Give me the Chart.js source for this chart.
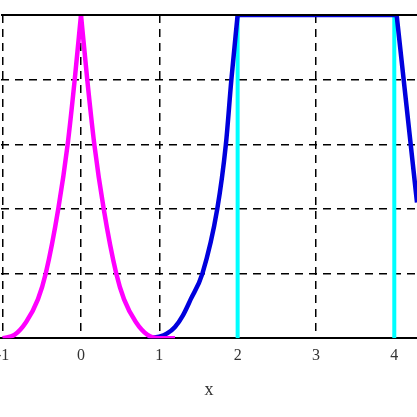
<!DOCTYPE html>
<html>
<head>
<script src="https://cdn.jsdelivr.net/npm/chart.js@4"></script>
<style>
  html, body { margin: 0; padding: 0; background: #fff; overflow: hidden; }
  #wrap { width: 429px; height: 417px; margin-left: -12px; }
</style>
</head>
<body>
<div id="wrap"><canvas id="c"></canvas></div>
<script>
// magenta peak (left half ends at the peak, right half starts there)
const peakLeftX = [-1, -0.85, -0.7, -0.55, -0.45, -0.29, -0.17, -0.08, 0];
const peakLeftY = [0, 0.01, 0.05, 0.12, 0.2, 0.4, 0.6, 0.8, 1];
const peakRightX = [0, 0.08, 0.17, 0.29, 0.45, 0.55, 0.7, 0.85, 1, 1.2];
const peakRightY = [1, 0.8, 0.6, 0.4, 0.2, 0.12, 0.05, 0.01, 0, 0];
// blue rising edge, then plateau and fall
const riseX = [0.85, 1.0, 1.1, 1.2, 1.3, 1.4, 1.55, 1.74, 1.85, 1.92, 2.0];
const riseY = [0, 0.005, 0.015, 0.035, 0.07, 0.12, 0.2, 0.4, 0.6, 0.8, 1];
const plateauX = [2.0, 4.03, 4.29];
const plateauY = [1, 1, 0.42];
// cyan markers
const markX = [2, 4];

function pts(xs, ys) { return xs.map((x, i) => ({ x: x, y: ys[i] })); }
function curve(xs, ys, color, smooth) {
  return { data: pts(xs, ys), borderColor: color, borderWidth: 4.5, showLine: true, pointRadius: 0,
           cubicInterpolationMode: smooth ? "monotone" : "default", tension: 0 };
}

const datasets = [
  curve(peakLeftX, peakLeftY, "#ff00ff", true),
  curve(peakRightX, peakRightY, "#ff00ff", true),
  curve(riseX, riseY, "#0000dd", true),
  curve(plateauX, plateauY, "#0000dd", false)
];
markX.forEach(x => {
  datasets.push({ data: [{ x: x, y: 0 }, { x: x, y: 1 }], borderColor: "#00ffff", borderWidth: 4, showLine: true, pointRadius: 0 });
});

const gridStyle = { color: "#000", lineWidth: 1.5, tickLength: 0 };

new Chart(document.getElementById("c"), {
  type: "scatter",
  data: { datasets },
  options: {
    responsive: true,
    maintainAspectRatio: false,
    animation: false,
    layout: { padding: { top: 15, left: 0, right: 0, bottom: 12 } },
    plugins: { legend: { display: false }, tooltip: { enabled: false } },
    scales: {
      x: {
        type: "linear", min: -1.02, max: 4.29,
        afterBuildTicks: s => { s.ticks = [-1, 0, 1, 2, 3, 4].map(v => ({ value: v })); },
        grid: gridStyle,
        border: { display: true, color: "#000", width: 2, dash: [8, 6] },
        ticks: { color: "#333", font: { family: "Liberation Serif", size: 16 }, padding: 8, callback: v => v },
        title: { display: true, text: "x", color: "#333", font: { family: "Liberation Serif", size: 18 }, padding: { top: 6 } }
      },
      y: {
        min: 0, max: 1,
        afterFit: s => { s.width = 0; },
        ticks: { display: false, stepSize: 0.2 },
        grid: gridStyle,
        border: { display: false, dash: [8, 6] }
      }
    }
  },
  plugins: [{
    id: "frame",
    afterDatasetsDraw(chart) {
      const a = chart.chartArea, ctx = chart.ctx;
      ctx.save();
      ctx.strokeStyle = "#000"; ctx.lineWidth = 2;
      ctx.beginPath(); ctx.moveTo(a.left, a.top); ctx.lineTo(a.right, a.top); ctx.stroke();
      ctx.restore();
    }
  }]
});
</script>
</body>
</html>
